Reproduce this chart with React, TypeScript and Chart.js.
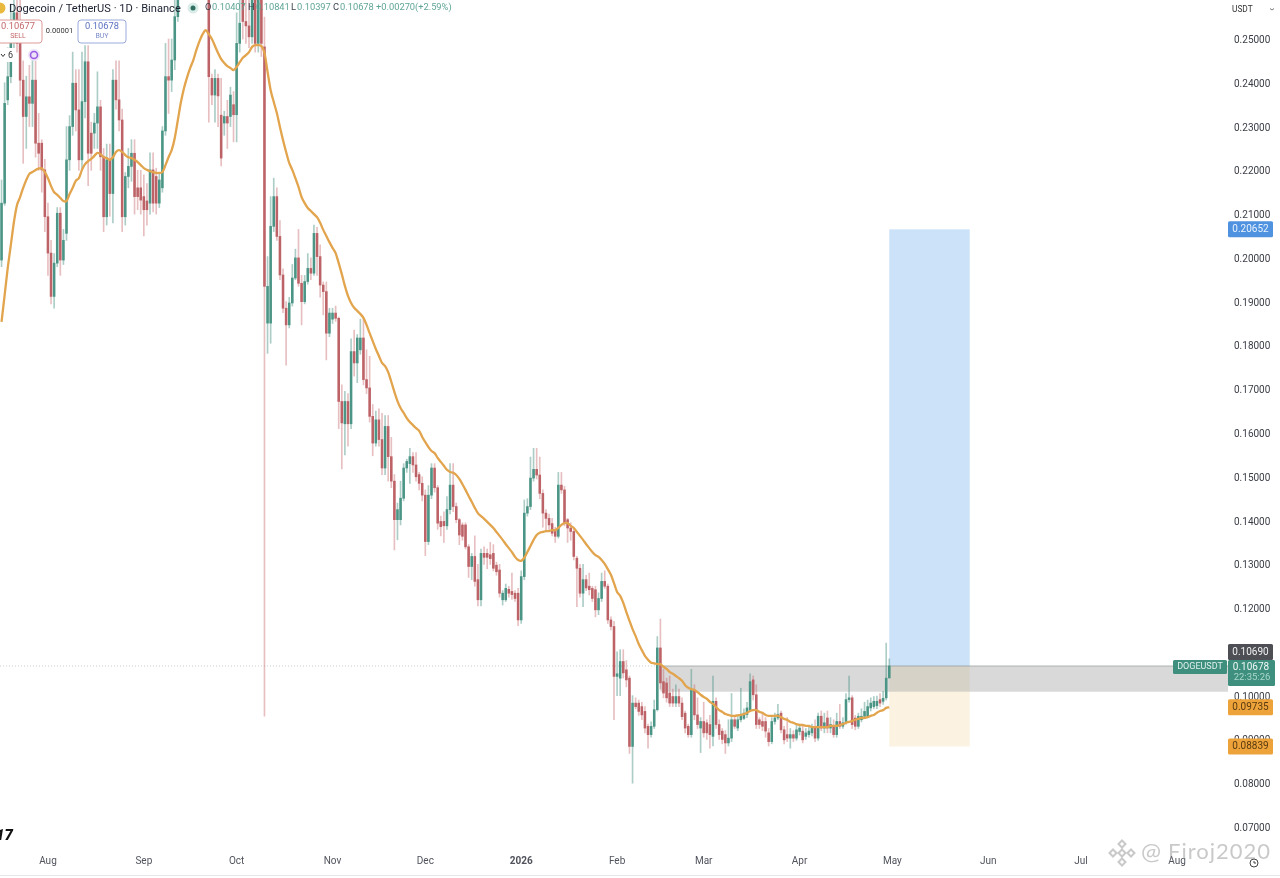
import React, { useEffect, useRef } from "react";
import { Chart, registerables } from "chart.js";

Chart.register(...registerables);

const startDay = Date.UTC(2025, 6, 17);
const slotCount = 397;
const categories: string[] = Array.from({ length: slotCount }, (_, i) =>
  new Date(startDay + i * 86400000).toISOString().slice(0, 10)
);
const monthLabels: Record<string, string> = {
  "2025-08-01": "Aug", "2025-09-01": "Sep", "2025-10-01": "Oct", "2025-11-01": "Nov", "2025-12-01": "Dec",
  "2026-01-01": "2026", "2026-02-01": "Feb", "2026-03-01": "Mar", "2026-04-01": "Apr", "2026-05-01": "May",
  "2026-06-01": "Jun", "2026-07-01": "Jul", "2026-08-01": "Aug",
};

const opens = [
  .1995,.2125,.2361,.2414,.2500,.2560,.2490,.2406,.2323,.2368,
  .2353,.2406,.2262,.2262,.2201,.2094,.2011,.1912,.1988,.2102,
  .1995,.2056,.2224,.2300,.2399,.2338,.2224,.2357,.2448,.2285,
  .2285,.2308,.2345,.2231,.2094,.2224,.2147,.2406,.2361,.2315,
  .2094,.2186,.2209,.2239,.2160,.2160,.2140,.2130,.2125,.2201,
  .2186,.2125,.2160,.2290,.2414,.2406,.2452,.2551,.2640,.2700,
  .2750,.2720,.2790,.2830,.2780,.2810,.2760,.2620,.2410,.2372,
  .2410,.2326,.2308,.2323,.2323,.2350,.2327,.2490,.2600,.2540,
  .2530,.2505,.2590,.2490,.2600,.2482,.1851,.1851,.2072,.2140,
  .2049,.1961,.1885,.1847,.1897,.1954,.2000,.1942,.1900,.1946,
  .1976,.1965,.2056,.2003,.1938,.1923,.1828,.1860,.1874,.1862,
  .1672,.1621,.1672,.1621,.1786,.1760,.1790,.1817,.1722,.1703,
  .1638,.1577,.1630,.1585,.1520,.1615,.1546,.1490,.1402,.1402,
  .1451,.1520,.1530,.1546,.1527,.1505,.1485,.1458,.1352,.1458,
  .1520,.1475,.1398,.1398,.1388,.1425,.1481,.1432,.1402,.1390,
  .1390,.1340,.1295,.1318,.1265,.1219,.1325,.1325,.1322,.1325,
  .1298,.1287,.1219,.1219,.1243,.1238,.1234,.1234,.1173,.1272,
  .1417,.1432,.1497,.1517,.1504,.1462,.1417,.1405,.1393,.1379,
  .1364,.1481,.1470,.1402,.1383,.1375,.1314,.1291,.1234,.1265,
  .1250,.1245,.1242,.1196,.1222,.1261,.1250,.1173,.1158,.1044,
  .1040,.1078,.1059,.1040,.0884,.0983,.0983,.0975,.0964,.0930,
  .0911,.0930,.0968,.1109,.1032,.1029,.1006,.0998,.0983,.0998,
  .0983,.0960,.0930,.0911,.1013,.0956,.0926,.0941,.0938,.0934,
  .0907,.0987,.0934,.0919,.0911,.0892,.0903,.0945,.0926,.0945,
  .0948,.0957,.0968,.1036,.1002,.0945,.0941,.0941,.0915,.0895,
  .0941,.0949,.0960,.0922,.0911,.0903,.0911,.0903,.0918,.0919,
  .0907,.0911,.0915,.0926,.0903,.0953,.0926,.0949,.0926,.0930,
  .0911,.0941,.0930,.0941,.0991,.0995,.0949,.0930,.0945,.0953,
  .0953,.0972,.0975,.0977,.0991,.0987,.0995,.10407,
];

const closes = [
  .2125,.2353,.2414,.2490,.2560,.2490,.2406,.2323,.2368,.2353,
  .2406,.2262,.2239,.2201,.2094,.2011,.1912,.1988,.2102,.1995,
  .2040,.2224,.2300,.2399,.2338,.2224,.2357,.2448,.2239,.2239,
  .2308,.2345,.2231,.2094,.2224,.2147,.2406,.2361,.2315,.2094,
  .2186,.2209,.2239,.2140,.2140,.2132,.2110,.2110,.2201,.2125,
  .2125,.2178,.2290,.2414,.2406,.2452,.2551,.2640,.2700,.2750,
  .2720,.2790,.2830,.2780,.2810,.2760,.2620,.2414,.2372,.2410,
  .2370,.2228,.2323,.2308,.2372,.2327,.2490,.2536,.2540,.2530,
  .2505,.2590,.2490,.2600,.2490,.1935,.1935,.2072,.2140,.2049,
  .1961,.1885,.1847,.1897,.1954,.2000,.1942,.1900,.1946,.1976,
  .1965,.2056,.2003,.1938,.1923,.1828,.1874,.1874,.1862,.1672,
  .1623,.1672,.1621,.1786,.1760,.1817,.1817,.1722,.1703,.1638,
  .1577,.1630,.1585,.1520,.1615,.1546,.1490,.1402,.1425,.1451,
  .1520,.1535,.1546,.1527,.1500,.1485,.1458,.1352,.1458,.1520,
  .1475,.1394,.1386,.1388,.1425,.1481,.1432,.1402,.1367,.1364,
  .1340,.1295,.1318,.1261,.1219,.1325,.1316,.1316,.1313,.1291,
  .1283,.1234,.1234,.1245,.1234,.1231,.1222,.1173,.1272,.1417,
  .1432,.1497,.1517,.1504,.1462,.1417,.1405,.1390,.1371,.1364,
  .1481,.1470,.1394,.1383,.1375,.1318,.1291,.1234,.1265,.1246,
  .1242,.1222,.1196,.1222,.1261,.1250,.1173,.1158,.1044,.1050,
  .1078,.1052,.1036,.0884,.0983,.0975,.0964,.0956,.0926,.0911,
  .0930,.0968,.1109,.1029,.1006,.0995,.0983,.0983,.0998,.0983,
  .0952,.0926,.0911,.1013,.0956,.0934,.0941,.0915,.0915,.0911,
  .0987,.0934,.0911,.0900,.0892,.0903,.0945,.0930,.0945,.0956,
  .0960,.0972,.1032,.1002,.0934,.0934,.0930,.0919,.0895,.0941,
  .0949,.0957,.0922,.0899,.0903,.0911,.0903,.0922,.0926,.0899,
  .0915,.0919,.0926,.0903,.0953,.0926,.0938,.0926,.0934,.0911,
  .0941,.0930,.0938,.0991,.0995,.0934,.0930,.0953,.0953,.0964,
  .0975,.0983,.0987,.0987,.0983,.0994,.1040,.10678,
];

const highs = [
  .2178,.2400,.2480,.2580,.2620,.2620,.2620,.2450,.2415,.2440,
  .2470,.2450,.2330,.2270,.2225,.2125,.2040,.2010,.2115,.2115,
  .2065,.2300,.2325,.2470,.2430,.2430,.2470,.2485,.2485,.2310,
  .2330,.2425,.2360,.2250,.2260,.2260,.2430,.2450,.2450,.2340,
  .2195,.2250,.2270,.2270,.2200,.2200,.2190,.2170,.2240,.2240,
  .2205,.2195,.2300,.2490,.2500,.2500,.2620,.2680,.2720,.2780,
  .2790,.2810,.2860,.2850,.2840,.2830,.2780,.2650,.2420,.2430,
  .2420,.2410,.2335,.2360,.2390,.2380,.2560,.2600,.2640,.2620,
  .2590,.2620,.2640,.2640,.2630,.2550,.2003,.2140,.2182,.2160,
  .2085,.1975,.1900,.1910,.1985,.2020,.2065,.1960,.1960,.2010,
  .2000,.2075,.2070,.2030,.1945,.1945,.1885,.1885,.1890,.1865,
  .1710,.1695,.1690,.1815,.1835,.1825,.1860,.1860,.1790,.1775,
  .1665,.1650,.1655,.1645,.1640,.1640,.1590,.1505,.1440,.1490,
  .1530,.1540,.1565,.1555,.1555,.1510,.1500,.1470,.1480,.1530,
  .1530,.1480,.1410,.1420,.1455,.1530,.1530,.1440,.1405,.1395,
  .1395,.1345,.1325,.1365,.1300,.1335,.1340,.1335,.1350,.1345,
  .1305,.1300,.1240,.1255,.1250,.1280,.1240,.1245,.1285,.1447,
  .1450,.1545,.1565,.1565,.1545,.1470,.1425,.1415,.1405,.1385,
  .1510,.1510,.1478,.1405,.1395,.1380,.1318,.1300,.1300,.1275,
  .1280,.1250,.1250,.1235,.1280,.1285,.1255,.1180,.1170,.1100,
  .1105,.1105,.1080,.1045,.1000,.0995,.0990,.0985,.0975,.0935,
  .0940,.0990,.1135,.1175,.1060,.1040,.1045,.1015,.1025,.1015,
  .0995,.0965,.0935,.1060,.1025,.0995,.0950,.0985,.0945,.0955,
  .1045,.0995,.0945,.0925,.0920,.0945,.1005,.0955,.0955,.1017,
  .0970,.0985,.1050,.1045,.1025,.0950,.0960,.0950,.0925,.0950,
  .0960,.0980,.0965,.0930,.0950,.0925,.0920,.0935,.0935,.0930,
  .0925,.0930,.0935,.0945,.0960,.0965,.0960,.0965,.0950,.0945,
  .0960,.0980,.0950,.1005,.1045,.1000,.0955,.0960,.0970,.0985,
  .0990,.0995,.0998,.0999,.1005,.1010,.1120,.10841,
];

const lows = [
  .1980,.2120,.2350,.2400,.2480,.2470,.2370,.2216,.2250,.2300,
  .2300,.2230,.2200,.2150,.2060,.1960,.1895,.1885,.1980,.1960,
  .1985,.2040,.2200,.2280,.2290,.2200,.2200,.2320,.2165,.2200,
  .2250,.2250,.2200,.2060,.2075,.2095,.2080,.2340,.2290,.2060,
  .2075,.2160,.2175,.2100,.2110,.2100,.2050,.2075,.2100,.2105,
  .2100,.2115,.2150,.2280,.2330,.2380,.2430,.2540,.2620,.2680,
  .2690,.2700,.2770,.2750,.2750,.2740,.2600,.2310,.2350,.2310,
  .2300,.2210,.2280,.2250,.2300,.2265,.2265,.2470,.2500,.2490,
  .2480,.2490,.2470,.2470,.2460,.0953,.1782,.1805,.2060,.2040,
  .1950,.1875,.1755,.1840,.1890,.1950,.1935,.1847,.1895,.1940,
  .1950,.1960,.1960,.1910,.1870,.1767,.1820,.1850,.1855,.1610,
  .1518,.1550,.1570,.1610,.1730,.1715,.1780,.1710,.1690,.1625,
  .1548,.1570,.1570,.1505,.1505,.1490,.1475,.1333,.1356,.1390,
  .1445,.1510,.1485,.1510,.1490,.1470,.1445,.1320,.1345,.1450,
  .1465,.1380,.1365,.1350,.1380,.1415,.1420,.1395,.1345,.1355,
  .1335,.1270,.1265,.1250,.1205,.1205,.1300,.1290,.1300,.1285,
  .1275,.1225,.1207,.1215,.1225,.1220,.1215,.1160,.1165,.1265,
  .1410,.1425,.1490,.1495,.1450,.1385,.1375,.1380,.1365,.1350,
  .1360,.1462,.1388,.1350,.1355,.1310,.1203,.1225,.1203,.1240,
  .1230,.1215,.1180,.1185,.1215,.1245,.1165,.1150,.0945,.1000,
  .1000,.1040,.1020,.0868,.0800,.0970,.0955,.0945,.0915,.0880,
  .0905,.0925,.0965,.1015,.0995,.0985,.0975,.0975,.0975,.0975,
  .0945,.0915,.0905,.0905,.0945,.0925,.0870,.0905,.0900,.0880,
  .0885,.0925,.0900,.0890,.0868,.0885,.0895,.0925,.0920,.0940,
  .0945,.0950,.0965,.0990,.0925,.0925,.0920,.0905,.0885,.0890,
  .0935,.0945,.0915,.0890,.0895,.0880,.0895,.0898,.0910,.0892,
  .0900,.0905,.0908,.0895,.0898,.0920,.0915,.0915,.0915,.0905,
  .0905,.0925,.0925,.0935,.0985,.0925,.0922,.0925,.0940,.0948,
  .0950,.0965,.0970,.0970,.0975,.0980,.0990,.10397,
];

const movingAverage = [
  .1854,.1915,.1977,.2029,.2082,.2121,.2139,.2160,.2178,.2192,
  .2196,.2201,.2204,.2205,.2196,.2182,.2164,.2150,.2144,.2137,
  .2130,.2130,.2146,.2160,.2176,.2182,.2201,.2214,.2221,.2226,
  .2233,.2240,.2237,.2230,.2228,.2224,.2230,.2242,.2246,.2242,
  .2235,.2230,.2228,.2224,.2219,.2212,.2205,.2201,.2198,.2196,
  .2194,.2194,.2196,.2212,.2230,.2246,.2274,.2315,.2356,.2388,
  .2413,.2434,.2452,.2475,.2495,.2511,.2520,.2511,.2500,.2484,
  .2468,.2454,.2445,.2438,.2434,.2429,.2436,.2447,.2457,.2463,
  .2470,.2482,.2486,.2486,.2484,.2468,.2425,.2383,.2356,.2331,
  .2299,.2269,.2242,.2217,.2201,.2182,.2162,.2139,.2125,.2114,
  .2107,.2100,.2093,.2080,.2064,.2050,.2036,.2023,.2011,.1988,
  .1963,.1936,.1913,.1897,.1886,.1879,.1872,.1863,.1847,.1828,
  .1810,.1792,.1776,.1760,.1753,.1739,.1717,.1694,.1673,.1657,
  .1646,.1634,.1625,.1618,.1611,.1605,.1591,.1579,.1568,.1559,
  .1554,.1543,.1534,.1525,.1516,.1511,.1509,.1504,.1495,.1483,
  .1470,.1456,.1443,.1429,.1417,.1410,.1404,.1397,.1390,.1383,
  .1374,.1365,.1356,.1346,.1337,.1328,.1317,.1310,.1308,.1315,
  .1328,.1342,.1356,.1367,.1372,.1374,.1376,.1376,.1378,.1378,
  .1383,.1390,.1394,.1394,.1388,.1383,.1374,.1365,.1356,.1346,
  .1337,.1328,.1321,.1317,.1310,.1301,.1289,.1276,.1257,.1237,
  .1228,.1212,.1191,.1171,.1152,.1136,.1118,.1104,.1091,.1082,
  .1075,.1074,.1072,.1072,.1066,.1061,.1054,.1050,.1045,.1040,
  .1034,.1024,.1018,.1015,.1013,.1008,.1002,.0997,.0993,.0986,
  .0981,.0974,.0967,.0963,.0958,.0956,.0954,.0954,.0955,.0956,
  .0958,.0961,.0965,.0967,.0967,.0963,.0961,.0956,.0954,.0954,
  .0954,.0954,.0951,.0947,.0945,.0940,.0938,.0935,.0933,.0933,
  .0931,.0931,.0928,.0928,.0928,.0928,.0928,.0928,.0931,.0931,
  .0931,.0933,.0935,.0938,.0940,.0942,.0945,.0947,.0949,.0949,
  .0951,.0954,.0956,.0961,.0965,.0967,.0972,.09735,
];

const lastPrice = 0.10678;
const targetPrice = 0.20652;
const stopPrice = 0.08839;
const zoneLow = 0.1009;
const maLast = 0.09735;
const crosshairPrice = 0.1069;
const positionStart = "2026-04-30";
const positionEnd = "2026-05-26";
const zoneStart = "2026-02-15";

const UP = "#4a9585";
const DOWN = "#bd6266";
const UP_WICK = "rgba(70,145,128,0.45)";
const DOWN_WICK = "rgba(195,95,100,0.4)";
const FONT = "Roboto, sans-serif";

function rr(c: CanvasRenderingContext2D, x: number, y: number, w: number, h: number, r: number) {
  c.beginPath();
  c.roundRect(x, y, w, h, r);
}

function text(c: CanvasRenderingContext2D, s: string, x: number, y: number, font: string, color: string, align: CanvasTextAlign = "left") {
  c.font = font;
  c.fillStyle = color;
  c.textAlign = align;
  c.textBaseline = "middle";
  c.fillText(s, x, y);
}

function priceTag(c: CanvasRenderingContext2D, y: number, label: string, bg: string, fg: string) {
  c.fillStyle = bg;
  rr(c, 1228, y - 8, 45, 16, 1.5);
  c.fill();
  text(c, label, 1250.5, y, `10px ${FONT}`, fg, "center");
}

const zonesPlugin = {
  id: "zones",
  beforeDraw(chart: any) {
    const items = chart.scales.y.getLabelItems(chart.chartArea);
    items.forEach((it: any) => { it.options.translation[1] += 1.5; });
  },
  beforeDatasetsDraw(chart: any) {
    const { ctx: c, scales, chartArea } = chart;
    const x = scales.x, y = scales.y;
    const x0 = x.getPixelForValue(categories.indexOf(positionStart));
    const x1 = x.getPixelForValue(categories.indexOf(positionEnd));
    const yLast = y.getPixelForValue(lastPrice);
    c.save();
    c.fillStyle = "#cbe2f9";
    c.fillRect(x0, y.getPixelForValue(targetPrice), x1 - x0, yLast - y.getPixelForValue(targetPrice));
    c.fillStyle = "#fbf2e1";
    c.fillRect(x0, yLast, x1 - x0, y.getPixelForValue(stopPrice) - yLast);
    const zx = x.getPixelForValue(categories.indexOf(zoneStart));
    c.fillStyle = "rgba(170,170,170,0.45)";
    c.fillRect(zx, yLast, chartArea.right - zx, y.getPixelForValue(zoneLow) - yLast);
    c.strokeStyle = "rgba(120,135,130,0.55)";
    c.lineWidth = 1;
    c.beginPath();
    c.moveTo(zx, yLast);
    c.lineTo(chartArea.right, yLast);
    c.stroke();
    c.strokeStyle = "rgba(150,160,155,0.5)";
    c.setLineDash([1, 2]);
    c.beginPath();
    c.moveTo(0, yLast);
    c.lineTo(zx, yLast);
    c.stroke();
    c.restore();
  },
  afterDraw(chart: any) {
    const { ctx: c, scales } = chart;
    const y = scales.y;
    c.save();
    // header
    c.fillStyle = "#e8b93c";
    c.beginPath();
    c.arc(0, 8, 5.5, 0, Math.PI * 2);
    c.fill();
    text(c, "Dogecoin / TetherUS · 1D · Binance", 9, 9, `11.1px ${FONT}`, "#1c2030");
    c.fillStyle = "#d9ece8";
    c.beginPath();
    c.arc(193, 8, 5.5, 0, Math.PI * 2);
    c.fill();
    c.fillStyle = "#2f6f62";
    c.beginPath();
    c.arc(193, 8, 2.5, 0, Math.PI * 2);
    c.fill();
    const green = "#5fa596";
    const dark = "#3c4250";
    const parts: [string, string, number][] = [
      ["O", dark, 205], ["0.10407", green, 212], ["H", dark, 248], ["0.10841", green, 256],
      ["L", dark, 291], ["0.10397", green, 297], ["C", dark, 333], ["0.10678", green, 340],
      ["+0.00270", green, 376], ["(+2.59%)", green, 415],
    ];
    parts.forEach(([s, col, px]) => text(c, s, px, 8, `9.3px ${FONT}`, col));
    // sell / buy
    c.fillStyle = "#fff";
    rr(c, -3, 20, 45, 23, 3);
    c.fill();
    c.strokeStyle = "#dd9a9a";
    c.lineWidth = 1;
    c.stroke();
    text(c, "0.10677", 18, 27, `9.3px ${FONT}`, "#c4686a", "center");
    text(c, "SELL", 18, 36.5, `7px ${FONT}`, "#c4686a", "center");
    text(c, "0.00001", 59.5, 31, `7.5px ${FONT}`, "#333", "center");
    c.fillStyle = "#fff";
    rr(c, 78, 20, 48, 23, 3);
    c.fill();
    c.strokeStyle = "#9aa9dd";
    c.stroke();
    text(c, "0.10678", 102, 27, `9.3px ${FONT}`, "#5a70c0", "center");
    text(c, "BUY", 102, 36.5, `7px ${FONT}`, "#7a8cc8", "center");
    c.fillStyle = "#fff";
    rr(c, -3, 48, 18, 14, 2);
    c.fill();
    c.strokeStyle = "#333";
    c.lineWidth = 1;
    c.beginPath();
    c.moveTo(1, 54);
    c.lineTo(3, 56.5);
    c.lineTo(5, 54);
    c.stroke();
    text(c, "6", 8, 55.5, `9px ${FONT}`, "#333");
    c.fillStyle = "#ece2fa";
    c.beginPath();
    c.arc(34, 55, 6, 0, Math.PI * 2);
    c.fill();
    c.strokeStyle = "#9a5be0";
    c.lineWidth = 1.6;
    c.beginPath();
    c.arc(34, 55, 3.5, 0, Math.PI * 2);
    c.stroke();
    // currency button
    c.fillStyle = "#fff";
    c.fillRect(1229, 2, 51, 16);
    text(c, "USDT", 1232, 9.5, `8.3px ${FONT}`, "#333");
    c.strokeStyle = "#555";
    c.lineWidth = 0.8;
    c.beginPath();
    c.moveTo(1270, 8.5);
    c.lineTo(1272, 10);
    c.lineTo(1274, 8.5);
    c.stroke();
    // price tags
    priceTag(c, y.getPixelForValue(targetPrice), "0.20652", "#4f93e0", "#e8f2fc");
    priceTag(c, 652, crosshairPrice.toFixed(5), "#4d4f55", "#f0f0f0");
    c.fillStyle = "#3f8f7e";
    rr(c, 1173, 660, 54, 14, 1.5);
    c.fill();
    text(c, "DOGEUSDT", 1200, 667, `9px ${FONT}`, "#dff0ec", "center");
    c.fillStyle = "#3f8f7e";
    rr(c, 1228, 660, 47, 26, 1.5);
    c.fill();
    text(c, lastPrice.toFixed(5), 1251, 667, `10px ${FONT}`, "#eef7f5", "center");
    text(c, "22:35:26", 1252, 678, `9.5px ${FONT}`, "#a9d8cc", "center");
    priceTag(c, y.getPixelForValue(maLast), maLast.toFixed(5), "#eda33a", "#5a3a10");
    priceTag(c, y.getPixelForValue(stopPrice), stopPrice.toFixed(5), "#eda33a", "#5a3a10");
    // logo fragment
    text(c, "17", -4, 836, `italic 900 15px ${FONT}`, "#111");
    // clock
    c.strokeStyle = "#444";
    c.lineWidth = 1;
    c.beginPath();
    c.arc(1254, 863, 4, 0, Math.PI * 2);
    c.stroke();
    c.beginPath();
    c.moveTo(1254, 861);
    c.lineTo(1254, 863);
    c.lineTo(1256, 863);
    c.stroke();
    c.strokeStyle = "#e4e6ea";
    c.beginPath();
    c.moveTo(0, 875.5);
    c.lineTo(1280, 875.5);
    c.stroke();
    // watermark
    const mark = "rgba(135,135,135,0.45)";
    c.strokeStyle = mark;
    c.lineWidth = 2;
    const diamond = (cx: number, cy: number, r: number) => {
      c.beginPath();
      c.moveTo(cx, cy - r);
      c.lineTo(cx + r, cy);
      c.lineTo(cx, cy + r);
      c.lineTo(cx - r, cy);
      c.closePath();
      c.stroke();
    };
    diamond(1122, 853, 3.5);
    diamond(1122, 844, 3.5);
    diamond(1122, 862, 3.5);
    diamond(1113, 853, 3.5);
    diamond(1131, 853, 3.5);
    text(c, "@", 1141, 852, `24px Lato, ${FONT}`, mark);
    (c as any).letterSpacing = "1px";
    text(c, "Firoj2020", 1168, 852, `22px Lato, ${FONT}`, mark);
    (c as any).letterSpacing = "0px";
    c.restore();
  },
};

export default function App() {
  const ref = useRef<HTMLCanvasElement>(null);
  useEffect(() => {
    const isUp = (i: number) => closes[i] >= opens[i];
    const chart = new Chart(ref.current as HTMLCanvasElement, {
      type: "bar",
      plugins: [zonesPlugin],
      data: {
        labels: categories,
        datasets: [
          {
            type: "line",
            label: "MA",
            data: movingAverage,
            borderColor: "#e2a44c",
            borderWidth: 2.3,
            pointRadius: 0,
            tension: 0.3,
            order: 0,
          },
          {
            label: "Body",
            data: opens.map((o, i) => [o, closes[i]]),
            backgroundColor: (ctx: any) => (isUp(ctx.dataIndex) ? UP : DOWN),
            barThickness: 1.9,
            minBarLength: 1,
            grouped: false,
            order: 1,
          },
          {
            label: "Wick",
            data: lows.map((l, i) => [l, highs[i]]),
            backgroundColor: (ctx: any) => (isUp(ctx.dataIndex) ? UP_WICK : DOWN_WICK),
            barThickness: 1,
            grouped: false,
            order: 2,
          },
        ] as any,
      },
      options: {
        responsive: false,
        animation: false,
        layout: { padding: 0 },
        plugins: { legend: { display: false }, tooltip: { enabled: false } },
        scales: {
          x: {
            type: "category",
            grid: { display: false, drawTicks: false },
            border: { display: false },
            afterFit: (s: any) => { s.height = 30; s.paddingLeft = 0; s.paddingRight = 0; },
            ticks: {
              autoSkip: false,
              maxRotation: 0,
              minRotation: 0,
              padding: 7,
              color: "#50535c",
              font: (ctx: any) => ({
                family: FONT,
                size: 10,
                weight: ctx.tick && ctx.tick.label === "2026" ? "bold" : "normal",
              }),
              callback: (_v: any, i: number) => monthLabels[categories[i]] || "",
            },
          },
          y: {
            type: "linear",
            position: "right",
            min: 0.0652,
            max: 0.25891,
            grid: { display: false, drawTicks: false },
            border: { display: false },
            afterFit: (s: any) => { s.width = 52; s.paddingTop = 0; s.paddingBottom = 0; },
            ticks: {
              stepSize: 0.01,
              includeBounds: false,
              autoSkip: false,
              padding: 6,
              color: "#3a3d46",
              font: { family: FONT, size: 10 },
              callback: (v: any) => Number(v).toFixed(5),
            },
          },
        },
      } as any,
    });
    return () => chart.destroy();
  }, []);
  return (
    <canvas
      ref={ref}
      width={1280}
      height={878}
      style={{ position: "fixed", left: 0, top: 0, width: 1280, height: 878, background: "#fff", display: "block" }}
    />
  );
}
